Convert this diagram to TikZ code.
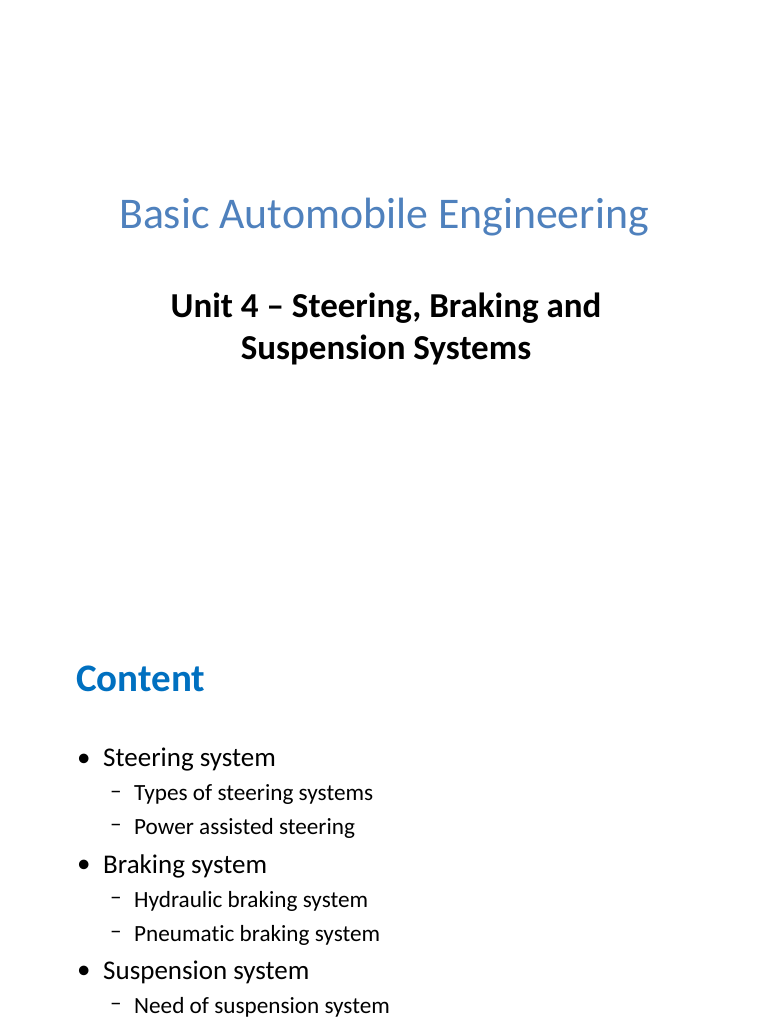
\documentclass[tikz,border=0pt]{standalone}
\usepackage{fontspec}
\setmainfont{Carlito}[Ligatures={NoCommon,TeX}]
\definecolor{ttl}{RGB}{79,129,189}
\definecolor{cnt}{RGB}{0,112,192}
\begin{document}
\begin{tikzpicture}[x=1pt,y=-1pt,
  lvl/.style={anchor=west,inner sep=0pt,font=\fontsize{27}{32}\selectfont},
  sub/.style={anchor=west,inner sep=0pt,font=\fontsize{23.2}{28}\selectfont}]
\useasboundingbox[fill=white] (0,0) rectangle (768,1024);
\node[inner sep=0pt,text=ttl,font=\fontsize{43.8}{52}\selectfont] (title) at (384,217) {Basic Automobile Engineering};
\node[inner sep=0pt,align=center,font=\bfseries\fontsize{35}{42}\selectfont] (sub) at (386,329) {Unit 4 – Steering, Braking and\\Suspension Systems};
\node[anchor=west,inner sep=0pt,text=cnt,font=\bfseries\fontsize{39}{46}\selectfont] (content) at (76,679) {Content};
\foreach \y/\t in {760/Steering system,866/Braking system,972/Suspension system}{
  \node[lvl] at (77,\y) {•};
  \node[lvl] at (103,\y) {\t};}
\foreach \y/\t in {795/Types of steering systems,828/Power assisted steering,901/Hydraulic braking system,935/Pneumatic braking system,1007/Need of suspension system}{
  \node[sub] at (110,\y) {–};
  \node[sub] at (134,\y) {\t};}
\end{tikzpicture}
\end{document}
